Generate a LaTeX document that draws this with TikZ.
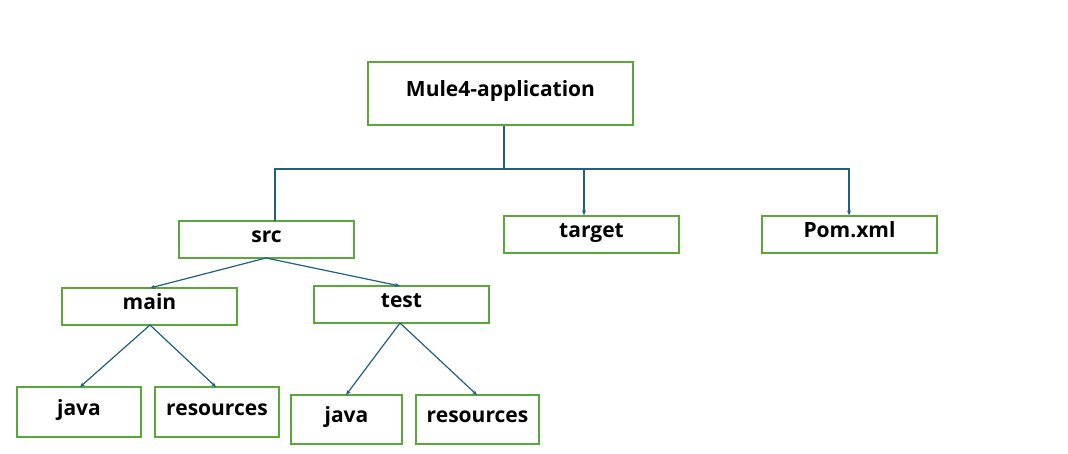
\documentclass[tikz,border=0pt]{standalone}
\usepackage{fontspec}
\setmainfont{Open Sans}
\usetikzlibrary{arrows.meta}
\definecolor{bx}{HTML}{5BA83A}
\definecolor{ln}{HTML}{1F5F80}
\begin{document}
\begin{tikzpicture}[x=1pt,y=-1pt,
 box/.style={draw=bx,line width=1.3pt,inner sep=0,text height=1.55ex,text depth=.4ex,font=\bfseries\fontsize{21}{24}\selectfont},
 con/.style={draw=ln,line width=1.2pt},
 arr/.style={con,-{Stealth[length=5pt,width=4pt]}}]
\useasboundingbox (0,0) rectangle (1068,454);
\newcommand{\bx}[6]{\node[box,minimum width=#4-#2,minimum height=#5-#3] (#1) at ({(#2+#4)/2},{(#3+#5)/2}) {#6};}
\bx{app}{368}{62}{633}{125}{Mule4-application}
\bx{src}{179}{221}{354}{258}{src}
\bx{tgt}{504}{216}{679}{253}{target}
\bx{pom}{762}{216}{937}{253}{Pom.xml}
\bx{main}{62}{288}{237}{325}{main}
\bx{test}{314}{286}{489}{323}{test}
\bx{j1}{17}{387}{141}{437}{java}
\bx{r1}{155}{387}{279}{437}{resources}
\bx{j2}{291}{395}{402}{444}{java}
\bx{r2}{416}{395}{539}{444}{resources}
\coordinate (hub) at (504,169);
\draw[con] (app.south -| hub) -- (hub);
\draw[con] (hub) -- (275,169) -- (275,221);
\draw[arr] (hub) -- (584,169) -- (tgt.north -| 584,0);
\draw[arr] (584,169) -- (849,169) -- (pom.north -| 849,0);
\coordinate (sb) at (266,258);
\draw[arr] (sb) -- (150,288);
\draw[arr] (sb) -- (400,286);
\coordinate (mb) at (150,325);
\draw[arr] (mb) -- (80,387);
\draw[arr] (mb) -- (216,387);
\coordinate (tb) at (400,323);
\draw[arr] (tb) -- (346,395);
\draw[arr] (tb) -- (477,395);
\end{tikzpicture}
\end{document}
